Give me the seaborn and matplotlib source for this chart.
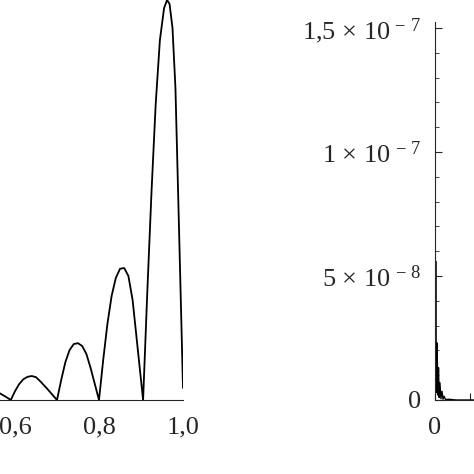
import matplotlib
matplotlib.use("Agg")
import matplotlib.pyplot as plt
import seaborn as sns
import pandas as pd

sns.set_style("ticks")
plt.rcParams['font.family'] = ['Liberation Serif', 'DejaVu Serif']
plt.rcParams['mathtext.fontset'] = 'custom'
plt.rcParams['mathtext.rm'] = 'Liberation Serif'
plt.rcParams['mathtext.it'] = 'Liberation Serif'

# left panel curve (normalized)
left_x = [0.50, 0.51, 0.52, 0.53, 0.54, 0.55, 0.56, 0.575, 0.59,
          0.60, 0.61, 0.62, 0.63, 0.64, 0.65, 0.66, 0.675, 0.70,
          0.71, 0.72, 0.73, 0.74, 0.75, 0.76, 0.77, 0.78, 0.79, 0.80,
          0.81, 0.82, 0.83, 0.84, 0.85, 0.86, 0.87, 0.88, 0.89, 0.905,
          0.915, 0.925, 0.935, 0.945, 0.955, 0.962, 0.968, 0.975, 0.982, 0.99, 1.0]
left_y = [0.0, 0.018, 0.027, 0.030, 0.029, 0.025, 0.019, 0.010, 0.0,
          0.022, 0.040, 0.052, 0.058, 0.060, 0.057, 0.047, 0.030, 0.0,
          0.05, 0.095, 0.125, 0.140, 0.142, 0.135, 0.115, 0.08, 0.04, 0.0,
          0.10, 0.19, 0.26, 0.305, 0.328, 0.33, 0.31, 0.25, 0.15, 0.0,
          0.27, 0.52, 0.74, 0.90, 0.98, 1.0, 0.99, 0.93, 0.78, 0.45, 0.03]
left_ticks = [0.6, 0.8, 1.0]
left_labels = ["0,6", "0,8", "1,0"]

# right panel spike data
right_x = [0.0, 0.02, 0.04, 0.06, 0.08, 0.10, 0.12, 0.14, 0.17, 0.20, 0.23, 0.26, 0.30, 0.40, 0.6, 1.2]
right_y = [0.0, 5.6e-8, 3e-9, 2.3e-8, 2e-9, 1.3e-8, 1e-9, 7e-9, 5e-10, 3.5e-9, 3e-10, 1.5e-9, 2e-10, 3e-10, 0.0, 0.0]
right_ticks = [0, 5e-8, 1e-7, 1.5e-7]
right_labels = ["0", r"5 × 10$^{\,-\,8}$", r"1 × 10$^{\,-\,7}$", r"1,5 × 10$^{\,-\,7}$"]

W = H = 474
fig = plt.figure(figsize=(4.74, 4.74), dpi=100)

ax1 = fig.add_axes([-27 / W, 74 / H, 210 / W, 400 / H])
sns.lineplot(data=pd.DataFrame({"x": left_x, "y": left_y}), x="x", y="y",
             ax=ax1, color="black", lw=1.3, estimator=None, sort=False)
ax1.set_xlim(0.5, 1.0)
ax1.set_ylim(0, 1.0)
ax1.set_xticks(left_ticks)
ax1.set_xticklabels(left_labels)
ax1.set_yticks([])
for s in ["top", "right", "left"]:
    ax1.spines[s].set_visible(False)
ax1.set_xlabel(""); ax1.set_ylabel("")
ax1.tick_params(axis="x", labelsize=19, direction="in", length=0, pad=12)
ax1.patch.set_alpha(0)

ax2 = fig.add_axes([435 / W, 74 / H, 140 / W, 378 / H])
sns.lineplot(data=pd.DataFrame({"x": right_x, "y": right_y}), x="x", y="y",
             ax=ax2, color="black", lw=1.0, estimator=None, sort=False)
ax2.set_xlim(0, 4)
ax2.set_ylim(0, 1.5e-7 * 378 / 372)
ax2.set_yticks(right_ticks)
ax2.set_yticklabels(right_labels)
ax2.set_yticks([i * 1e-8 for i in range(16)], minor=True)
ax2.set_xticks([0, 1])
ax2.set_xticklabels(["0", ""])
for s in ["top", "right"]:
    ax2.spines[s].set_visible(False)
ax2.set_xlabel(""); ax2.set_ylabel("")
ax2.tick_params(axis="both", labelsize=19, direction="in", length=5)
ax2.tick_params(axis="x", pad=12)
ax2.tick_params(axis="y", pad=10)
ax2.tick_params(axis="y", which="minor", direction="in", length=3)
ax2.patch.set_alpha(0)

fig.savefig("out.png", dpi=100)
